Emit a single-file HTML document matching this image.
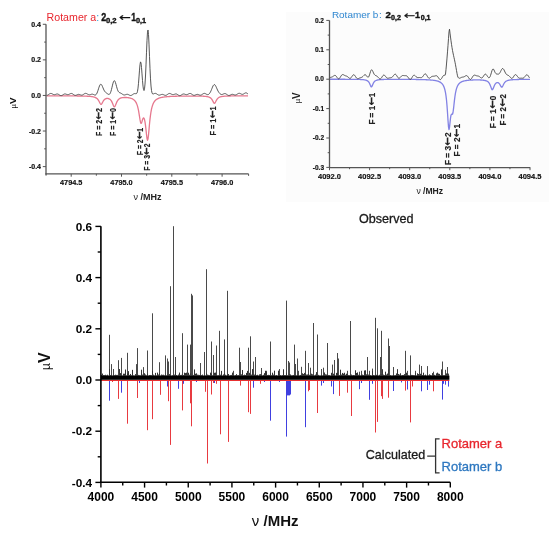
<!DOCTYPE html><html><head><meta charset="utf-8"><title>Rotational spectra</title>
<style>html,body{margin:0;padding:0;background:#fff;}svg{display:block;}</style></head><body>
<svg width="550" height="537" viewBox="0 0 550 537" font-family="&apos;Liberation Sans&apos;, sans-serif">
<rect width="550" height="537" fill="#fff"/>
<path d="M46.5 95.83 L47 95.83 L47.5 95.83 L48 95.83 L48.5 95.83 L49 95.83 L49.5 95.83 L50 95.83 L50.5 95.83 L51 95.84 L51.5 95.84 L52 95.84 L52.5 95.84 L53 95.84 L53.5 95.84 L54 95.84 L54.5 95.84 L55 95.85 L55.5 95.85 L56 95.85 L56.5 95.85 L57 95.85 L57.5 95.85 L58 95.86 L58.5 95.86 L59 95.86 L59.5 95.86 L60 95.86 L60.5 95.86 L61 95.87 L61.5 95.87 L62 95.87 L62.5 95.87 L63 95.87 L63.5 95.88 L64 95.88 L64.5 95.88 L65 95.88 L65.5 95.89 L66 95.89 L66.5 95.89 L67 95.9 L67.5 95.9 L68 95.9 L68.5 95.9 L69 95.91 L69.5 95.91 L70 95.91 L70.5 95.92 L71 95.92 L71.5 95.93 L72 95.93 L72.5 95.93 L73 95.94 L73.5 95.94 L74 95.95 L74.5 95.95 L75 95.96 L75.5 95.96 L76 95.97 L76.5 95.97 L77 95.98 L77.5 95.99 L78 95.99 L78.5 96 L79 96.01 L79.5 96.02 L80 96.03 L80.5 96.04 L81 96.05 L81.5 96.06 L82 96.07 L82.5 96.08 L83 96.09 L83.5 96.1 L84 96.12 L84.5 96.13 L85 96.15 L85.5 96.17 L86 96.19 L86.5 96.21 L87 96.23 L87.5 96.26 L88 96.28 L88.5 96.31 L89 96.35 L89.5 96.38 L90 96.42 L90.5 96.47 L91 96.52 L91.5 96.58 L92 96.65 L92.5 96.73 L93 96.82 L93.5 96.92 L94 97.04 L94.5 97.19 L95 97.36 L95.5 97.57 L96 97.83 L96.5 98.14 L97 98.53 L97.5 99.02 L98 99.62 L98.5 100.37 L99 101.26 L99.5 102.26 L100 103.25 L100.5 104.02 L101 104.34 L101.5 104.09 L102 103.38 L102.5 102.45 L103 101.52 L103.5 100.7 L104 100.03 L104.5 99.51 L105 99.12 L105.5 98.83 L106 98.62 L106.5 98.5 L107 98.43 L107.5 98.43 L108 98.48 L108.5 98.59 L109 98.77 L109.5 99.03 L110 99.37 L110.5 99.83 L111 100.42 L111.5 101.17 L112 102.12 L112.5 103.25 L113 104.51 L113.5 105.71 L114 106.56 L114.5 106.78 L115 106.27 L115.5 105.22 L116 103.95 L116.5 102.72 L117 101.64 L117.5 100.75 L118 100.03 L118.5 99.47 L119 99.02 L119.5 98.67 L120 98.39 L120.5 98.16 L121 97.99 L121.5 97.85 L122 97.73 L122.5 97.65 L123 97.58 L123.5 97.53 L124 97.5 L124.5 97.48 L125 97.48 L125.5 97.48 L126 97.5 L126.5 97.52 L127 97.56 L127.5 97.61 L128 97.67 L128.5 97.74 L129 97.82 L129.5 97.92 L130 98.04 L130.5 98.17 L131 98.33 L131.5 98.5 L132 98.71 L132.5 98.95 L133 99.23 L133.5 99.55 L134 99.94 L134.5 100.39 L135 100.94 L135.5 101.6 L136 102.41 L136.5 103.4 L137 104.63 L137.5 106.16 L138 108.08 L138.5 110.44 L139 113.29 L139.5 116.5 L140 119.71 L140.5 122.23 L141 123.38 L141.5 122.97 L142 121.49 L142.5 119.78 L143 118.46 L143.5 117.9 L144 118.24 L144.5 119.57 L145 121.96 L145.5 125.42 L146 129.79 L146.5 134.54 L147 138.53 L147.5 140.33 L148 139.02 L148.5 134.98 L149 129.57 L149.5 124.04 L150 119.13 L150.5 115.05 L151 111.77 L151.5 109.17 L152 107.1 L152.5 105.44 L153 104.11 L153.5 103.03 L154 102.14 L154.5 101.4 L155 100.78 L155.5 100.26 L156 99.81 L156.5 99.43 L157 99.1 L157.5 98.81 L158 98.56 L158.5 98.34 L159 98.15 L159.5 97.97 L160 97.82 L160.5 97.68 L161 97.56 L161.5 97.44 L162 97.34 L162.5 97.25 L163 97.16 L163.5 97.09 L164 97.02 L164.5 96.95 L165 96.89 L165.5 96.83 L166 96.78 L166.5 96.74 L167 96.69 L167.5 96.65 L168 96.61 L168.5 96.58 L169 96.54 L169.5 96.51 L170 96.48 L170.5 96.46 L171 96.43 L171.5 96.41 L172 96.38 L172.5 96.36 L173 96.34 L173.5 96.32 L174 96.3 L174.5 96.29 L175 96.27 L175.5 96.26 L176 96.24 L176.5 96.23 L177 96.21 L177.5 96.2 L178 96.19 L178.5 96.18 L179 96.17 L179.5 96.16 L180 96.15 L180.5 96.14 L181 96.13 L181.5 96.12 L182 96.12 L182.5 96.11 L183 96.1 L183.5 96.1 L184 96.09 L184.5 96.08 L185 96.08 L185.5 96.07 L186 96.07 L186.5 96.06 L187 96.06 L187.5 96.06 L188 96.05 L188.5 96.05 L189 96.05 L189.5 96.04 L190 96.04 L190.5 96.04 L191 96.04 L191.5 96.04 L192 96.04 L192.5 96.04 L193 96.04 L193.5 96.04 L194 96.04 L194.5 96.04 L195 96.04 L195.5 96.05 L196 96.05 L196.5 96.05 L197 96.06 L197.5 96.06 L198 96.07 L198.5 96.07 L199 96.08 L199.5 96.09 L200 96.1 L200.5 96.11 L201 96.13 L201.5 96.14 L202 96.16 L202.5 96.18 L203 96.2 L203.5 96.23 L204 96.26 L204.5 96.29 L205 96.33 L205.5 96.38 L206 96.44 L206.5 96.5 L207 96.58 L207.5 96.67 L208 96.79 L208.5 96.92 L209 97.09 L209.5 97.31 L210 97.57 L210.5 97.91 L211 98.34 L211.5 98.89 L212 99.59 L212.5 100.44 L213 101.42 L213.5 102.4 L214 103.12 L214.5 103.3 L215 102.88 L215.5 102.02 L216 101.01 L216.5 100.07 L217 99.28 L217.5 98.64 L218 98.14 L218.5 97.74 L219 97.43 L219.5 97.19 L220 96.99 L220.5 96.83 L221 96.7 L221.5 96.6 L222 96.51 L222.5 96.43 L223 96.37 L223.5 96.31 L224 96.26 L224.5 96.22 L225 96.19 L225.5 96.16 L226 96.13 L226.5 96.1 L227 96.08 L227.5 96.06 L228 96.04 L228.5 96.03 L229 96.01 L229.5 96 L230 95.99 L230.5 95.98 L231 95.97 L231.5 95.96 L232 95.95 L232.5 95.94 L233 95.93 L233.5 95.93 L234 95.92 L234.5 95.91 L235 95.91 L235.5 95.9 L236 95.9 L236.5 95.89 L237 95.89 L237.5 95.88 L238 95.88 L238.5 95.88 L239 95.87 L239.5 95.87 L240 95.87 L240.5 95.86 L241 95.86 L241.5 95.86 L242 95.86 L242.5 95.85 L243 95.85 L243.5 95.85 L244 95.85 L244.5 95.84 L245 95.84 L245.5 95.84 L246 95.84 L246.5 95.84 L247 95.84 L247.5 95.83 L248 95.83" fill="none" stroke="#e6788e" stroke-width="1.3" stroke-linejoin="round"/>
<path d="M46.5 95.32 L47 95.33 L47.5 95.2 L48 94.96 L48.5 94.62 L49 94.25 L49.5 93.9 L50 93.62 L50.5 93.46 L51 93.43 L51.5 93.54 L52 93.75 L52.5 94.02 L53 94.29 L53.5 94.51 L54 94.64 L54.5 94.66 L55 94.58 L55.5 94.43 L56 94.25 L56.5 94.08 L57 93.99 L57.5 94 L58 94.13 L58.5 94.37 L59 94.68 L59.5 95.02 L60 95.32 L60.5 95.53 L61 95.63 L61.5 95.58 L62 95.39 L62.5 95.11 L63 94.77 L63.5 94.44 L64 94.16 L64.5 93.99 L65 93.94 L65.5 94 L66 94.14 L66.5 94.33 L67 94.5 L67.5 94.62 L68 94.64 L68.5 94.55 L69 94.36 L69.5 94.11 L70 93.84 L70.5 93.62 L71 93.48 L71.5 93.46 L72 93.58 L72.5 93.83 L73 94.16 L73.5 94.54 L74 94.89 L74.5 95.17 L75 95.34 L75.5 95.37 L76 95.28 L76.5 95.09 L77 94.86 L77.5 94.63 L78 94.45 L78.5 94.37 L79 94.4 L79.5 94.52 L80 94.7 L80.5 94.91 L81 95.08 L81.5 95.16 L82 95.13 L82.5 94.98 L83 94.72 L83.5 94.38 L84 94.02 L84.5 93.69 L85 93.46 L85.5 93.35 L86 93.38 L86.5 93.54 L87 93.8 L87.5 94.11 L88 94.41 L88.5 94.64 L89 94.78 L89.5 94.81 L90 94.73 L90.5 94.58 L91 94.4 L91.5 94.24 L92 94.15 L92.5 94.17 L93 94.29 L93.5 94.49 L94 94.74 L94.5 94.96 L95 95.07 L95.5 95 L96 94.67 L96.5 94.03 L97 93.09 L97.5 91.84 L98 90.37 L98.5 88.79 L99 87.24 L99.5 85.88 L100 84.85 L100.5 84.29 L101 84.23 L101.5 84.66 L102 85.51 L102.5 86.63 L103 87.86 L103.5 89.07 L104 90.15 L104.5 91.03 L105 91.71 L105.5 92.24 L106 92.66 L106.5 93.04 L107 93.41 L107.5 93.78 L108 94.12 L108.5 94.37 L109 94.43 L109.5 94.22 L110 93.64 L110.5 92.63 L111 91.19 L111.5 89.36 L112 87.28 L112.5 85.15 L113 83.2 L113.5 81.7 L114 80.83 L114.5 80.73 L115 81.39 L115.5 82.68 L116 84.4 L116.5 86.3 L117 88.12 L117.5 89.69 L118 90.9 L118.5 91.76 L119 92.29 L119.5 92.62 L120 92.83 L120.5 93.02 L121 93.26 L121.5 93.55 L122 93.9 L122.5 94.25 L123 94.58 L123.5 94.83 L124 94.96 L124.5 94.98 L125 94.89 L125.5 94.73 L126 94.54 L126.5 94.38 L127 94.3 L127.5 94.31 L128 94.44 L128.5 94.65 L129 94.92 L129.5 95.18 L130 95.39 L130.5 95.5 L131 95.47 L131.5 95.31 L132 95.03 L132.5 94.68 L133 94.31 L133.5 93.97 L134 93.72 L134.5 93.59 L135 93.58 L135.5 93.66 L136 93.72 L136.5 93.58 L137 92.91 L137.5 91.27 L138 88.15 L138.5 83.29 L139 76.94 L139.5 70.15 L140 64.57 L140.5 61.87 L141 62.93 L141.5 67.4 L142 73.88 L142.5 80.59 L143 86.09 L143.5 89.54 L144 90.56 L144.5 88.86 L145 84.09 L145.5 76 L146 64.92 L146.5 52.22 L147 40.33 L147.5 32.17 L148 29.99 L148.5 34.41 L149 44.11 L149.5 56.47 L150 68.72 L150.5 78.85 L151 86.04 L151.5 90.47 L152 92.8 L152.5 93.79 L153 94.03 L153.5 93.92 L154 93.69 L154.5 93.48 L155 93.36 L155.5 93.37 L156 93.52 L156.5 93.78 L157 94.13 L157.5 94.49 L158 94.81 L158.5 95.04 L159 95.16 L159.5 95.15 L160 95.04 L160.5 94.85 L161 94.65 L161.5 94.48 L162 94.38 L162.5 94.39 L163 94.5 L163.5 94.69 L164 94.92 L164.5 95.15 L165 95.31 L165.5 95.37 L166 95.3 L166.5 95.1 L167 94.79 L167.5 94.42 L168 94.06 L168.5 93.74 L169 93.53 L169.5 93.45 L170 93.5 L170.5 93.67 L171 93.92 L171.5 94.19 L172 94.43 L172.5 94.59 L173 94.64 L173.5 94.6 L174 94.46 L174.5 94.28 L175 94.1 L175.5 93.97 L176 93.95 L176.5 94.03 L177 94.24 L177.5 94.53 L178 94.87 L178.5 95.2 L179 95.46 L179.5 95.61 L180 95.61 L180.5 95.48 L181 95.24 L181.5 94.92 L182 94.58 L182.5 94.29 L183 94.08 L183.5 93.98 L184 94 L184.5 94.12 L185 94.29 L185.5 94.47 L186 94.61 L186.5 94.66 L187 94.61 L187.5 94.45 L188 94.21 L188.5 93.94 L189 93.68 L189.5 93.5 L190 93.43 L190.5 93.49 L191 93.69 L191.5 94 L192 94.36 L192.5 94.73 L193 95.05 L193.5 95.26 L194 95.34 L194.5 95.3 L195 95.15 L195.5 94.93 L196 94.7 L196.5 94.51 L197 94.39 L197.5 94.39 L198 94.48 L198.5 94.65 L199 94.86 L199.5 95.05 L200 95.18 L200.5 95.2 L201 95.09 L201.5 94.86 L202 94.54 L202.5 94.18 L203 93.83 L203.5 93.55 L204 93.39 L204.5 93.36 L205 93.47 L205.5 93.69 L206 93.98 L206.5 94.27 L207 94.5 L207.5 94.63 L208 94.62 L208.5 94.43 L209 94.06 L209.5 93.5 L210 92.76 L210.5 91.85 L211 90.79 L211.5 89.6 L212 88.34 L212.5 87.11 L213 86.01 L213.5 85.16 L214 84.67 L214.5 84.58 L215 84.92 L215.5 85.63 L216 86.6 L216.5 87.72 L217 88.88 L217.5 89.98 L218 90.98 L218.5 91.85 L219 92.59 L219.5 93.22 L220 93.74 L220.5 94.13 L221 94.39 L221.5 94.52 L222 94.51 L222.5 94.38 L223 94.17 L223.5 93.93 L224 93.72 L224.5 93.58 L225 93.56 L225.5 93.68 L226 93.92 L226.5 94.25 L227 94.62 L227.5 94.98 L228 95.27 L228.5 95.44 L229 95.48 L229.5 95.39 L230 95.19 L230.5 94.94 L231 94.68 L231.5 94.46 L232 94.33 L232.5 94.31 L233 94.4 L233.5 94.55 L234 94.74 L234.5 94.91 L235 95.01 L235.5 95 L236 94.87 L236.5 94.63 L237 94.32 L237.5 93.97 L238 93.65 L238.5 93.41 L239 93.29 L239.5 93.31 L240 93.44 L240.5 93.67 L241 93.93 L241.5 94.17 L242 94.32 L242.5 94.36 L243 94.26 L243.5 94.03 L244 93.72 L244.5 93.38 L245 93.09 L245.5 92.9 L246 92.85 L246.5 92.97 L247 93.24 L247.5 93.63 L248 94.06" fill="none" stroke="#444" stroke-width="0.9" stroke-linejoin="round"/>
<line x1="46" y1="24.3" x2="46" y2="174.4" stroke="#555" stroke-width="1.3"/>
<line x1="45.4" y1="173.9" x2="248.6" y2="173.9" stroke="#555" stroke-width="1.3"/>
<line x1="248.6" y1="173.9" x2="248.6" y2="175.9" stroke="#555" stroke-width="1"/>
<line x1="42.8" y1="24.29" x2="46" y2="24.29" stroke="#555" stroke-width="1"/>
<text x="41" y="26.79" font-size="7" text-anchor="end" font-weight="bold" fill="#111" stroke="#111" stroke-width="0.18">0.4</text>
<line x1="44.2" y1="42.08" x2="46" y2="42.08" stroke="#555" stroke-width="1"/>
<line x1="42.8" y1="59.87" x2="46" y2="59.87" stroke="#555" stroke-width="1"/>
<text x="41" y="62.37" font-size="7" text-anchor="end" font-weight="bold" fill="#111" stroke="#111" stroke-width="0.18">0.2</text>
<line x1="44.2" y1="77.66" x2="46" y2="77.66" stroke="#555" stroke-width="1"/>
<line x1="42.8" y1="95.45" x2="46" y2="95.45" stroke="#555" stroke-width="1"/>
<text x="41" y="97.95" font-size="7" text-anchor="end" font-weight="bold" fill="#111" stroke="#111" stroke-width="0.18">0.0</text>
<line x1="44.2" y1="113.24" x2="46" y2="113.24" stroke="#555" stroke-width="1"/>
<line x1="42.8" y1="131.03" x2="46" y2="131.03" stroke="#555" stroke-width="1"/>
<text x="41" y="133.53" font-size="7" text-anchor="end" font-weight="bold" fill="#111" stroke="#111" stroke-width="0.18">-0.2</text>
<line x1="44.2" y1="148.82" x2="46" y2="148.82" stroke="#555" stroke-width="1"/>
<line x1="42.8" y1="166.61" x2="46" y2="166.61" stroke="#555" stroke-width="1"/>
<text x="41" y="169.11" font-size="7" text-anchor="end" font-weight="bold" fill="#111" stroke="#111" stroke-width="0.18">-0.4</text>
<line x1="46.05" y1="173.9" x2="46.05" y2="175.7" stroke="#555" stroke-width="1"/>
<line x1="71.2" y1="173.9" x2="71.2" y2="176.7" stroke="#555" stroke-width="1"/>
<text x="71.2" y="184.8" font-size="7.3" text-anchor="middle" font-weight="bold" fill="#111" stroke="#111" stroke-width="0.18">4794.5</text>
<line x1="96.35" y1="173.9" x2="96.35" y2="175.7" stroke="#555" stroke-width="1"/>
<line x1="121.5" y1="173.9" x2="121.5" y2="176.7" stroke="#555" stroke-width="1"/>
<text x="121.5" y="184.8" font-size="7.3" text-anchor="middle" font-weight="bold" fill="#111" stroke="#111" stroke-width="0.18">4795.0</text>
<line x1="146.65" y1="173.9" x2="146.65" y2="175.7" stroke="#555" stroke-width="1"/>
<line x1="171.8" y1="173.9" x2="171.8" y2="176.7" stroke="#555" stroke-width="1"/>
<text x="171.8" y="184.8" font-size="7.3" text-anchor="middle" font-weight="bold" fill="#111" stroke="#111" stroke-width="0.18">4795.5</text>
<line x1="196.95" y1="173.9" x2="196.95" y2="175.7" stroke="#555" stroke-width="1"/>
<line x1="222.1" y1="173.9" x2="222.1" y2="176.7" stroke="#555" stroke-width="1"/>
<text x="222.1" y="184.8" font-size="7.3" text-anchor="middle" font-weight="bold" fill="#111" stroke="#111" stroke-width="0.18">4796.0</text>
<text x="133.4" y="199.5" font-size="9" font-weight="bold" fill="#222"><tspan font-weight="normal">&#957;</tspan> /MHz</text>
<text transform="translate(16.0 108.4) rotate(-90)" font-size="9.8" font-weight="bold" fill="#111"><tspan font-weight="normal" font-size="7.6">&#181;</tspan>V</text>
<text x="46.6" y="20.7" font-size="10.6" fill="#e8262e" textLength="49.6" lengthAdjust="spacingAndGlyphs">Rotamer a</text>
<text x="96.3" y="20.7" font-size="10.6" fill="#2e9fd6">:</text>
<text x="101.2" y="20.7" font-size="10.4" font-weight="bold" fill="#111" textLength="5" lengthAdjust="spacingAndGlyphs" stroke="#111" stroke-width="0.35">2</text>
<text x="106" y="22.9" font-size="6.8" font-weight="bold" fill="#111" textLength="10.6" lengthAdjust="spacingAndGlyphs" stroke="#111" stroke-width="0.35">0,2</text>
<text x="118.8" y="21.2" font-size="11" font-family="DejaVu Sans" fill="#111" stroke="#111" stroke-width="0.25" textLength="11.8" lengthAdjust="spacingAndGlyphs">&#8592;</text>
<text x="131.2" y="20.7" font-size="10.4" font-weight="bold" fill="#111" textLength="4.8" lengthAdjust="spacingAndGlyphs" stroke="#111" stroke-width="0.35">1</text>
<text x="136" y="22.9" font-size="6.8" font-weight="bold" fill="#111" textLength="10.2" lengthAdjust="spacingAndGlyphs" stroke="#111" stroke-width="0.35">0,1</text>
<text x="0" y="0" font-size="8.3" font-weight="bold" fill="#222" textLength="28" lengthAdjust="spacingAndGlyphs" stroke="#222" stroke-width="0.15" transform="translate(102.15 136) rotate(-90)">F = 2<tspan font-family="DejaVu Sans" font-size="11">&#8592;</tspan>2</text>
<text x="0" y="0" font-size="8.3" font-weight="bold" fill="#222" textLength="28" lengthAdjust="spacingAndGlyphs" stroke="#222" stroke-width="0.15" transform="translate(116.45 136) rotate(-90)">F = 1<tspan font-family="DejaVu Sans" font-size="11">&#8592;</tspan>0</text>
<text x="0" y="0" font-size="8.3" font-weight="bold" fill="#222" textLength="27.4" lengthAdjust="spacingAndGlyphs" stroke="#222" stroke-width="0.15" transform="translate(142.95 155.2) rotate(-90)">F = 2<tspan font-family="DejaVu Sans" font-size="11">&#8592;</tspan>1</text>
<text x="0" y="0" font-size="8.3" font-weight="bold" fill="#222" textLength="27.3" lengthAdjust="spacingAndGlyphs" stroke="#222" stroke-width="0.15" transform="translate(150.25 170.8) rotate(-90)">F = 3<tspan font-family="DejaVu Sans" font-size="11">&#8592;</tspan>2</text>
<text x="0" y="0" font-size="8.3" font-weight="bold" fill="#222" textLength="29" lengthAdjust="spacingAndGlyphs" stroke="#222" stroke-width="0.15" transform="translate(216.05 135.4) rotate(-90)">F = 1<tspan font-family="DejaVu Sans" font-size="11">&#8592;</tspan>1</text>
<rect x="286" y="12" width="263" height="190" fill="#fcfcfc"/>
<path d="M330 79.24 L330.5 79.24 L331 79.24 L331.5 79.24 L332 79.24 L332.5 79.24 L333 79.25 L333.5 79.25 L334 79.25 L334.5 79.25 L335 79.25 L335.5 79.25 L336 79.25 L336.5 79.25 L337 79.25 L337.5 79.25 L338 79.25 L338.5 79.26 L339 79.26 L339.5 79.26 L340 79.26 L340.5 79.26 L341 79.26 L341.5 79.26 L342 79.26 L342.5 79.27 L343 79.27 L343.5 79.27 L344 79.27 L344.5 79.27 L345 79.27 L345.5 79.28 L346 79.28 L346.5 79.28 L347 79.28 L347.5 79.29 L348 79.29 L348.5 79.29 L349 79.29 L349.5 79.3 L350 79.3 L350.5 79.3 L351 79.31 L351.5 79.31 L352 79.32 L352.5 79.32 L353 79.33 L353.5 79.33 L354 79.34 L354.5 79.34 L355 79.35 L355.5 79.36 L356 79.36 L356.5 79.37 L357 79.38 L357.5 79.39 L358 79.41 L358.5 79.42 L359 79.43 L359.5 79.45 L360 79.47 L360.5 79.49 L361 79.51 L361.5 79.54 L362 79.57 L362.5 79.61 L363 79.65 L363.5 79.7 L364 79.77 L364.5 79.84 L365 79.93 L365.5 80.03 L366 80.17 L366.5 80.34 L367 80.56 L367.5 80.84 L368 81.21 L368.5 81.71 L369 82.38 L369.5 83.27 L370 84.38 L370.5 85.61 L371 86.6 L371.5 86.88 L372 86.27 L372.5 85.12 L373 83.92 L373.5 82.89 L374 82.1 L374.5 81.5 L375 81.06 L375.5 80.73 L376 80.48 L376.5 80.28 L377 80.13 L377.5 80 L378 79.91 L378.5 79.83 L379 79.76 L379.5 79.71 L380 79.66 L380.5 79.62 L381 79.59 L381.5 79.56 L382 79.53 L382.5 79.51 L383 79.49 L383.5 79.48 L384 79.46 L384.5 79.45 L385 79.44 L385.5 79.43 L386 79.42 L386.5 79.41 L387 79.41 L387.5 79.4 L388 79.39 L388.5 79.39 L389 79.38 L389.5 79.38 L390 79.38 L390.5 79.37 L391 79.37 L391.5 79.37 L392 79.37 L392.5 79.37 L393 79.36 L393.5 79.36 L394 79.36 L394.5 79.36 L395 79.36 L395.5 79.36 L396 79.36 L396.5 79.36 L397 79.36 L397.5 79.36 L398 79.36 L398.5 79.36 L399 79.36 L399.5 79.36 L400 79.36 L400.5 79.37 L401 79.37 L401.5 79.37 L402 79.37 L402.5 79.37 L403 79.37 L403.5 79.38 L404 79.38 L404.5 79.38 L405 79.38 L405.5 79.38 L406 79.39 L406.5 79.39 L407 79.39 L407.5 79.4 L408 79.4 L408.5 79.4 L409 79.41 L409.5 79.41 L410 79.41 L410.5 79.42 L411 79.42 L411.5 79.43 L412 79.43 L412.5 79.44 L413 79.44 L413.5 79.45 L414 79.45 L414.5 79.46 L415 79.47 L415.5 79.47 L416 79.48 L416.5 79.49 L417 79.5 L417.5 79.5 L418 79.51 L418.5 79.52 L419 79.53 L419.5 79.54 L420 79.55 L420.5 79.56 L421 79.57 L421.5 79.59 L422 79.6 L422.5 79.61 L423 79.63 L423.5 79.64 L424 79.66 L424.5 79.67 L425 79.69 L425.5 79.71 L426 79.73 L426.5 79.75 L427 79.77 L427.5 79.8 L428 79.82 L428.5 79.85 L429 79.88 L429.5 79.91 L430 79.95 L430.5 79.99 L431 80.03 L431.5 80.07 L432 80.12 L432.5 80.17 L433 80.22 L433.5 80.28 L434 80.35 L434.5 80.42 L435 80.5 L435.5 80.59 L436 80.69 L436.5 80.8 L437 80.92 L437.5 81.06 L438 81.21 L438.5 81.39 L439 81.58 L439.5 81.81 L440 82.07 L440.5 82.38 L441 82.73 L441.5 83.15 L442 83.65 L442.5 84.25 L443 84.98 L443.5 85.88 L444 87.01 L444.5 88.43 L445 90.27 L445.5 92.66 L446 95.82 L446.5 100.03 L447 105.57 L447.5 112.52 L448 120.26 L448.5 126.83 L449 129.51 L449.5 127.4 L450 122.65 L450.5 118.08 L451 115.2 L451.5 114.17 L452 114.29 L452.5 114.19 L453 112.52 L453.5 108.96 L454 104.4 L454.5 99.89 L455 96.04 L455.5 92.94 L456 90.53 L456.5 88.65 L457 87.18 L457.5 86.02 L458 85.1 L458.5 84.35 L459 83.73 L459.5 83.22 L460 82.8 L460.5 82.44 L461 82.13 L461.5 81.87 L462 81.64 L462.5 81.44 L463 81.27 L463.5 81.12 L464 80.98 L464.5 80.87 L465 80.76 L465.5 80.66 L466 80.58 L466.5 80.5 L467 80.43 L467.5 80.37 L468 80.32 L468.5 80.27 L469 80.22 L469.5 80.18 L470 80.14 L470.5 80.11 L471 80.08 L471.5 80.05 L472 80.03 L472.5 80 L473 79.98 L473.5 79.97 L474 79.95 L474.5 79.94 L475 79.93 L475.5 79.92 L476 79.92 L476.5 79.91 L477 79.91 L477.5 79.91 L478 79.92 L478.5 79.93 L479 79.94 L479.5 79.95 L480 79.97 L480.5 79.99 L481 80.01 L481.5 80.04 L482 80.08 L482.5 80.12 L483 80.17 L483.5 80.23 L484 80.3 L484.5 80.39 L485 80.49 L485.5 80.62 L486 80.77 L486.5 80.95 L487 81.18 L487.5 81.47 L488 81.84 L488.5 82.3 L489 82.9 L489.5 83.67 L490 84.66 L490.5 85.88 L491 87.28 L491.5 88.65 L492 89.59 L492.5 89.72 L493 88.99 L493.5 87.74 L494 86.41 L494.5 85.24 L495 84.31 L495.5 83.62 L496 83.13 L496.5 82.81 L497 82.64 L497.5 82.61 L498 82.7 L498.5 82.94 L499 83.34 L499.5 83.93 L500 84.7 L500.5 85.62 L501 86.53 L501.5 87.13 L502 87.14 L502.5 86.52 L503 85.53 L503.5 84.47 L504 83.52 L504.5 82.74 L505 82.12 L505.5 81.64 L506 81.27 L506.5 80.97 L507 80.74 L507.5 80.55 L508 80.39 L508.5 80.26 L509 80.16 L509.5 80.06 L510 79.99 L510.5 79.92 L511 79.86 L511.5 79.81 L512 79.77 L512.5 79.73 L513 79.7 L513.5 79.67 L514 79.64 L514.5 79.61 L515 79.59 L515.5 79.57 L516 79.55 L516.5 79.53 L517 79.52 L517.5 79.5 L518 79.49 L518.5 79.48 L519 79.47 L519.5 79.46 L520 79.45 L520.5 79.44 L521 79.43 L521.5 79.42 L522 79.41 L522.5 79.41 L523 79.4 L523.5 79.39 L524 79.39 L524.5 79.38 L525 79.38 L525.5 79.37 L526 79.37 L526.5 79.36 L527 79.36 L527.5 79.35 L528 79.35 L528.5 79.34 L529 79.34 L529.5 79.34 L530 79.33" fill="none" stroke="#8282e4" stroke-width="1.3" stroke-linejoin="round"/>
<path d="M330 77.64 L330.5 77.42 L331 77.27 L331.5 77.15 L332 76.98 L332.5 76.75 L333 76.42 L333.5 76.04 L334 75.68 L334.5 75.42 L335 75.35 L335.5 75.53 L336 75.97 L336.5 76.61 L337 77.36 L337.5 78.07 L338 78.61 L338.5 78.87 L339 78.78 L339.5 78.35 L340 77.66 L340.5 76.83 L341 75.99 L341.5 75.28 L342 74.8 L342.5 74.57 L343 74.58 L343.5 74.78 L344 75.07 L344.5 75.36 L345 75.62 L345.5 75.8 L346 75.95 L346.5 76.09 L347 76.3 L347.5 76.61 L348 77.02 L348.5 77.48 L349 77.93 L349.5 78.26 L350 78.38 L350.5 78.23 L351 77.8 L351.5 77.15 L352 76.38 L352.5 75.63 L353 75.04 L353.5 74.74 L354 74.77 L354.5 75.14 L355 75.77 L355.5 76.55 L356 77.33 L356.5 78 L357 78.47 L357.5 78.7 L358 78.7 L358.5 78.54 L359 78.31 L359.5 78.06 L360 77.86 L360.5 77.71 L361 77.58 L361.5 77.42 L362 77.18 L362.5 76.81 L363 76.34 L363.5 75.79 L364 75.27 L364.5 74.88 L365 74.71 L365.5 74.82 L366 75.22 L366.5 75.83 L367 76.51 L367.5 77.07 L368 77.31 L368.5 77.05 L369 76.21 L369.5 74.85 L370 73.19 L370.5 71.57 L371 70.35 L371.5 69.79 L372 69.94 L372.5 70.69 L373 71.77 L373.5 72.92 L374 73.93 L374.5 74.68 L375 75.18 L375.5 75.48 L376 75.68 L376.5 75.88 L377 76.16 L377.5 76.58 L378 77.12 L378.5 77.73 L379 78.32 L379.5 78.77 L380 78.98 L380.5 78.89 L381 78.49 L381.5 77.82 L382 77.01 L382.5 76.2 L383 75.53 L383.5 75.12 L384 75.03 L384.5 75.26 L385 75.75 L385.5 76.39 L386 77.05 L386.5 77.61 L387 78.01 L387.5 78.21 L388 78.24 L388.5 78.16 L389 78.02 L389.5 77.9 L390 77.82 L390.5 77.77 L391 77.7 L391.5 77.55 L392 77.27 L392.5 76.83 L393 76.24 L393.5 75.57 L394 74.93 L394.5 74.42 L395 74.17 L395.5 74.23 L396 74.63 L396.5 75.29 L397 76.12 L397.5 76.96 L398 77.67 L398.5 78.13 L399 78.28 L399.5 78.12 L400 77.71 L400.5 77.15 L401 76.57 L401.5 76.06 L402 75.71 L402.5 75.52 L403 75.48 L403.5 75.54 L404 75.61 L404.5 75.67 L405 75.68 L405.5 75.67 L406 75.69 L406.5 75.81 L407 76.09 L407.5 76.55 L408 77.17 L408.5 77.89 L409 78.58 L409.5 79.13 L410 79.42 L410.5 79.38 L411 79 L411.5 78.34 L412 77.5 L412.5 76.64 L413 75.89 L413.5 75.39 L414 75.18 L414.5 75.27 L415 75.61 L415.5 76.08 L416 76.59 L416.5 77.03 L417 77.34 L417.5 77.5 L418 77.55 L418.5 77.53 L419 77.51 L419.5 77.53 L420 77.59 L420.5 77.67 L421 77.71 L421.5 77.62 L422 77.36 L422.5 76.9 L423 76.25 L423.5 75.51 L424 74.78 L424.5 74.19 L425 73.87 L425.5 73.88 L426 74.25 L426.5 74.9 L427 75.74 L427.5 76.62 L428 77.39 L428.5 77.93 L429 78.19 L429.5 78.16 L430 77.9 L430.5 77.5 L431 77.07 L431.5 76.7 L432 76.44 L432.5 76.3 L433 76.25 L433.5 76.23 L434 76.2 L434.5 76.1 L435 75.96 L435.5 75.8 L436 75.69 L436.5 75.73 L437 75.96 L437.5 76.42 L438 77.07 L438.5 77.84 L439 78.6 L439.5 79.22 L440 79.57 L440.5 79.58 L441 79.23 L441.5 78.59 L442 77.76 L442.5 76.88 L443 76.09 L443.5 75.52 L444 75.22 L444.5 75.19 L445 75.38 L445.5 74.13 L446 69.4 L446.5 63.99 L447 58.11 L447.5 51.86 L448 45.32 L448.5 38.59 L449 31.74 L449.5 29.18 L450 33.13 L450.5 37.02 L451 40.77 L451.5 44.29 L452 47.5 L452.5 50.39 L453 52.96 L453.5 55.31 L454 57.56 L454.5 59.82 L455 62.22 L455.5 64.81 L456 67.6 L456.5 70.49 L457 73.32 L457.5 75.84 L458 77.26 L458.5 77.85 L459 78.18 L459.5 78.26 L460 78.13 L460.5 77.88 L461 77.6 L461.5 77.36 L462 77.2 L462.5 77.11 L463 77.05 L463.5 76.96 L464 76.8 L464.5 76.55 L465 76.23 L465.5 75.9 L466 75.64 L466.5 75.55 L467 75.7 L467.5 76.11 L468 76.75 L468.5 77.53 L469 78.33 L469.5 78.99 L470 79.4 L470.5 79.46 L471 79.17 L471.5 78.58 L472 77.79 L472.5 76.94 L473 76.16 L473.5 75.57 L474 75.22 L474.5 75.1 L475 75.17 L475.5 75.36 L476 75.57 L476.5 75.75 L477 75.86 L477.5 75.93 L478 76 L478.5 76.11 L479 76.33 L479.5 76.66 L480 77.07 L480.5 77.49 L481 77.83 L481.5 77.99 L482 77.9 L482.5 77.52 L483 76.9 L483.5 76.11 L484 75.31 L484.5 74.63 L485 74.2 L485.5 74.1 L486 74.36 L486.5 74.91 L487 75.65 L487.5 76.45 L488 77.16 L488.5 77.64 L489 77.78 L489.5 77.51 L490 76.76 L490.5 75.56 L491 73.97 L491.5 72.21 L492 70.57 L492.5 69.38 L493 68.9 L493.5 69.17 L494 70.03 L494.5 71.18 L495 72.29 L495.5 73.14 L496 73.67 L496.5 73.94 L497 74.07 L497.5 74.14 L498 74.17 L498.5 74.1 L499 73.87 L499.5 73.39 L500 72.64 L500.5 71.68 L501 70.62 L501.5 69.63 L502 68.88 L502.5 68.51 L503 68.59 L503.5 69.09 L504 69.93 L504.5 70.97 L505 72.05 L505.5 73.04 L506 73.85 L506.5 74.43 L507 74.81 L507.5 75.06 L508 75.26 L508.5 75.51 L509 75.87 L509.5 76.36 L510 76.95 L510.5 77.55 L511 78.06 L511.5 78.36 L512 78.38 L512.5 78.08 L513 77.51 L513.5 76.74 L514 75.93 L514.5 75.22 L515 74.74 L515.5 74.57 L516 74.73 L516.5 75.18 L517 75.82 L517.5 76.53 L518 77.18 L518.5 77.7 L519 78.04 L519.5 78.2 L520 78.23 L520.5 78.2 L521 78.17 L521.5 78.17 L522 78.2 L522.5 78.22 L523 78.17 L523.5 77.99 L524 77.63 L524.5 77.1 L525 76.45 L525.5 75.78 L526 75.19 L526.5 74.83 L527 74.75 L527.5 75.01 L528 75.56 L528.5 76.31 L529 77.12 L529.5 77.85" fill="none" stroke="#444" stroke-width="0.9" stroke-linejoin="round"/>
<line x1="329.5" y1="20.4" x2="329.5" y2="168.1" stroke="#555" stroke-width="1.3"/>
<line x1="328.9" y1="167.6" x2="530.3" y2="167.6" stroke="#555" stroke-width="1.3"/>
<line x1="326.3" y1="20.4" x2="329.5" y2="20.4" stroke="#555" stroke-width="1"/>
<text x="324" y="22.6" font-size="6.5" text-anchor="end" font-weight="bold" fill="#111" stroke="#111" stroke-width="0.18">0.2</text>
<line x1="327.7" y1="35.1" x2="329.5" y2="35.1" stroke="#555" stroke-width="1"/>
<line x1="326.3" y1="49.8" x2="329.5" y2="49.8" stroke="#555" stroke-width="1"/>
<text x="324" y="52" font-size="6.5" text-anchor="end" font-weight="bold" fill="#111" stroke="#111" stroke-width="0.18">0.1</text>
<line x1="327.7" y1="64.5" x2="329.5" y2="64.5" stroke="#555" stroke-width="1"/>
<line x1="326.3" y1="79.2" x2="329.5" y2="79.2" stroke="#555" stroke-width="1"/>
<text x="324" y="81.4" font-size="6.5" text-anchor="end" font-weight="bold" fill="#111" stroke="#111" stroke-width="0.18">0.0</text>
<line x1="327.7" y1="93.9" x2="329.5" y2="93.9" stroke="#555" stroke-width="1"/>
<line x1="326.3" y1="108.6" x2="329.5" y2="108.6" stroke="#555" stroke-width="1"/>
<text x="324" y="110.8" font-size="6.5" text-anchor="end" font-weight="bold" fill="#111" stroke="#111" stroke-width="0.18">-0.1</text>
<line x1="327.7" y1="123.3" x2="329.5" y2="123.3" stroke="#555" stroke-width="1"/>
<line x1="326.3" y1="138" x2="329.5" y2="138" stroke="#555" stroke-width="1"/>
<text x="324" y="140.2" font-size="6.5" text-anchor="end" font-weight="bold" fill="#111" stroke="#111" stroke-width="0.18">-0.2</text>
<line x1="327.7" y1="152.7" x2="329.5" y2="152.7" stroke="#555" stroke-width="1"/>
<line x1="326.3" y1="167.4" x2="329.5" y2="167.4" stroke="#555" stroke-width="1"/>
<text x="324" y="169.6" font-size="6.5" text-anchor="end" font-weight="bold" fill="#111" stroke="#111" stroke-width="0.18">-0.3</text>
<line x1="329.5" y1="167.6" x2="329.5" y2="170.2" stroke="#555" stroke-width="1"/>
<text x="329.5" y="178.6" font-size="7.5" text-anchor="middle" font-weight="bold" fill="#111" stroke="#111" stroke-width="0.18">4092.0</text>
<line x1="349.55" y1="167.6" x2="349.55" y2="169.2" stroke="#555" stroke-width="1"/>
<line x1="369.6" y1="167.6" x2="369.6" y2="170.2" stroke="#555" stroke-width="1"/>
<text x="369.6" y="178.6" font-size="7.5" text-anchor="middle" font-weight="bold" fill="#111" stroke="#111" stroke-width="0.18">4092.5</text>
<line x1="389.65" y1="167.6" x2="389.65" y2="169.2" stroke="#555" stroke-width="1"/>
<line x1="409.7" y1="167.6" x2="409.7" y2="170.2" stroke="#555" stroke-width="1"/>
<text x="409.7" y="178.6" font-size="7.5" text-anchor="middle" font-weight="bold" fill="#111" stroke="#111" stroke-width="0.18">4093.0</text>
<line x1="429.75" y1="167.6" x2="429.75" y2="169.2" stroke="#555" stroke-width="1"/>
<line x1="449.8" y1="167.6" x2="449.8" y2="170.2" stroke="#555" stroke-width="1"/>
<text x="449.8" y="178.6" font-size="7.5" text-anchor="middle" font-weight="bold" fill="#111" stroke="#111" stroke-width="0.18">4093.5</text>
<line x1="469.85" y1="167.6" x2="469.85" y2="169.2" stroke="#555" stroke-width="1"/>
<line x1="489.9" y1="167.6" x2="489.9" y2="170.2" stroke="#555" stroke-width="1"/>
<text x="489.9" y="178.6" font-size="7.5" text-anchor="middle" font-weight="bold" fill="#111" stroke="#111" stroke-width="0.18">4094.0</text>
<line x1="509.95" y1="167.6" x2="509.95" y2="169.2" stroke="#555" stroke-width="1"/>
<line x1="530" y1="167.6" x2="530" y2="170.2" stroke="#555" stroke-width="1"/>
<text x="530" y="178.6" font-size="7.5" text-anchor="middle" font-weight="bold" fill="#111" stroke="#111" stroke-width="0.18">4094.5</text>
<text x="416.4" y="193.5" font-size="8.6" font-weight="bold" fill="#222"><tspan font-weight="normal">&#957;</tspan> /MHz</text>
<text transform="translate(299.6 103.3) rotate(-90)" font-size="10" font-weight="bold" fill="#222"><tspan font-weight="normal" font-size="7.5">&#181;</tspan>V</text>
<text x="331.9" y="18.1" font-size="9.8" fill="#2e86d0" textLength="46.5" lengthAdjust="spacingAndGlyphs">Rotamer b</text>
<text x="378.9" y="18.1" font-size="9.8" fill="#2e86d0">:</text>
<text x="385.6" y="17.9" font-size="9.8" font-weight="bold" fill="#111" textLength="5.4" lengthAdjust="spacingAndGlyphs" stroke="#111" stroke-width="0.35">2</text>
<text x="391" y="19.8" font-size="6.3" font-weight="bold" fill="#111" textLength="9.9" lengthAdjust="spacingAndGlyphs" stroke="#111" stroke-width="0.35">0,2</text>
<text x="403.8" y="19.2" font-size="10" font-family="DejaVu Sans" fill="#111" stroke="#111" stroke-width="0.25" textLength="11.2" lengthAdjust="spacingAndGlyphs">&#8592;</text>
<text x="415" y="17.9" font-size="9.8" font-weight="bold" fill="#111" textLength="5" lengthAdjust="spacingAndGlyphs" stroke="#111" stroke-width="0.35">1</text>
<text x="420.7" y="20" font-size="6.3" font-weight="bold" fill="#111" textLength="9.9" lengthAdjust="spacingAndGlyphs" stroke="#111" stroke-width="0.35">0,1</text>
<text x="0" y="0" font-size="8.6" font-weight="bold" fill="#222" textLength="32" lengthAdjust="spacingAndGlyphs" stroke="#222" stroke-width="0.15" transform="translate(375.45 124.6) rotate(-90)">F = 1<tspan font-family="DejaVu Sans" font-size="11">&#8592;</tspan>1</text>
<text x="0" y="0" font-size="8.6" font-weight="bold" fill="#222" textLength="32.6" lengthAdjust="spacingAndGlyphs" stroke="#222" stroke-width="0.15" transform="translate(450.75 165) rotate(-90)">F = 3<tspan font-family="DejaVu Sans" font-size="11">&#8592;</tspan>2</text>
<text x="0" y="0" font-size="8.6" font-weight="bold" fill="#222" textLength="32.6" lengthAdjust="spacingAndGlyphs" stroke="#222" stroke-width="0.15" transform="translate(459.55 156.6) rotate(-90)">F = 2<tspan font-family="DejaVu Sans" font-size="11">&#8592;</tspan>1</text>
<text x="0" y="0" font-size="8.6" font-weight="bold" fill="#222" textLength="32.8" lengthAdjust="spacingAndGlyphs" stroke="#222" stroke-width="0.15" transform="translate(495.75 128.3) rotate(-90)">F = 1<tspan font-family="DejaVu Sans" font-size="11">&#8592;</tspan>0</text>
<text x="0" y="0" font-size="8.6" font-weight="bold" fill="#222" textLength="31.4" lengthAdjust="spacingAndGlyphs" stroke="#222" stroke-width="0.15" transform="translate(506.15 125.5) rotate(-90)">F = 2<tspan font-family="DejaVu Sans" font-size="11">&#8592;</tspan>2</text>
<line x1="112.5" y1="380.5" x2="112.5" y2="382" stroke="#e83a40" stroke-width="1"/>
<line x1="118.5" y1="380.5" x2="118.5" y2="398.9" stroke="#e83a40" stroke-width="1"/>
<line x1="127.5" y1="380.5" x2="127.5" y2="423.7" stroke="#e83a40" stroke-width="1"/>
<line x1="137.5" y1="380.5" x2="137.5" y2="398" stroke="#e83a40" stroke-width="1"/>
<line x1="147.5" y1="380.5" x2="147.5" y2="430.2" stroke="#e83a40" stroke-width="1"/>
<line x1="152.5" y1="380.5" x2="152.5" y2="419.2" stroke="#e83a40" stroke-width="1"/>
<line x1="160.5" y1="380.5" x2="160.5" y2="394.8" stroke="#e83a40" stroke-width="1"/>
<line x1="168.5" y1="380.5" x2="168.5" y2="401.2" stroke="#e83a40" stroke-width="1"/>
<line x1="170.5" y1="380.5" x2="170.5" y2="444.9" stroke="#e83a40" stroke-width="1"/>
<line x1="182.5" y1="380.5" x2="182.5" y2="410.4" stroke="#e83a40" stroke-width="1"/>
<line x1="190.5" y1="380.5" x2="190.5" y2="403.3" stroke="#e83a40" stroke-width="1"/>
<line x1="191.5" y1="380.5" x2="191.5" y2="426.3" stroke="#e83a40" stroke-width="1"/>
<line x1="205.5" y1="380.5" x2="205.5" y2="391.8" stroke="#e83a40" stroke-width="1"/>
<line x1="207.5" y1="380.5" x2="207.5" y2="463.5" stroke="#e83a40" stroke-width="1"/>
<line x1="211.5" y1="380.5" x2="211.5" y2="394.5" stroke="#e83a40" stroke-width="1"/>
<line x1="213.5" y1="380.5" x2="213.5" y2="383" stroke="#e83a40" stroke-width="1"/>
<line x1="216.5" y1="380.5" x2="216.5" y2="383.8" stroke="#e83a40" stroke-width="1"/>
<line x1="220.5" y1="380.5" x2="220.5" y2="434.3" stroke="#e83a40" stroke-width="1"/>
<line x1="228.5" y1="380.5" x2="228.5" y2="441.9" stroke="#e83a40" stroke-width="1"/>
<line x1="240.5" y1="380.5" x2="240.5" y2="385.6" stroke="#e83a40" stroke-width="1"/>
<line x1="248.5" y1="380.5" x2="248.5" y2="412.2" stroke="#e83a40" stroke-width="1"/>
<line x1="250.5" y1="380.5" x2="250.5" y2="413.9" stroke="#e83a40" stroke-width="1"/>
<line x1="260.5" y1="380.5" x2="260.5" y2="383.8" stroke="#e83a40" stroke-width="1"/>
<line x1="308.5" y1="380.5" x2="308.5" y2="391.3" stroke="#e83a40" stroke-width="1"/>
<line x1="309.5" y1="380.5" x2="309.5" y2="390" stroke="#e83a40" stroke-width="1"/>
<line x1="317.5" y1="380.5" x2="317.5" y2="413" stroke="#e83a40" stroke-width="1"/>
<line x1="339.5" y1="380.5" x2="339.5" y2="395.9" stroke="#e83a40" stroke-width="1"/>
<line x1="347.5" y1="380.5" x2="347.5" y2="392.7" stroke="#e83a40" stroke-width="1"/>
<line x1="351.5" y1="380.5" x2="351.5" y2="416" stroke="#e83a40" stroke-width="1"/>
<line x1="375.5" y1="380.5" x2="375.5" y2="432.5" stroke="#e83a40" stroke-width="1"/>
<line x1="377.5" y1="380.5" x2="377.5" y2="421.9" stroke="#e83a40" stroke-width="1"/>
<line x1="381.5" y1="380.5" x2="381.5" y2="396.2" stroke="#e83a40" stroke-width="1"/>
<line x1="382.5" y1="380.5" x2="382.5" y2="398.9" stroke="#e83a40" stroke-width="1"/>
<line x1="388.5" y1="380.5" x2="388.5" y2="397.7" stroke="#e83a40" stroke-width="1"/>
<line x1="405.5" y1="380.5" x2="405.5" y2="390.6" stroke="#e83a40" stroke-width="1"/>
<line x1="410.5" y1="380.5" x2="410.5" y2="422.4" stroke="#e83a40" stroke-width="1"/>
<line x1="412.5" y1="380.5" x2="412.5" y2="386.5" stroke="#e83a40" stroke-width="1"/>
<line x1="433.5" y1="380.5" x2="433.5" y2="391.3" stroke="#e83a40" stroke-width="1"/>
<line x1="109.5" y1="380.5" x2="109.5" y2="400.7" stroke="#4040e0" stroke-width="1"/>
<line x1="121.5" y1="380.5" x2="121.5" y2="392.7" stroke="#4040e0" stroke-width="1"/>
<line x1="139.5" y1="380.5" x2="139.5" y2="383" stroke="#4040e0" stroke-width="1"/>
<line x1="167.5" y1="380.5" x2="167.5" y2="386.5" stroke="#4040e0" stroke-width="1"/>
<line x1="178.5" y1="380.5" x2="178.5" y2="388.8" stroke="#4040e0" stroke-width="1"/>
<line x1="183.5" y1="380.5" x2="183.5" y2="383.8" stroke="#4040e0" stroke-width="1"/>
<line x1="196.5" y1="380.5" x2="196.5" y2="382" stroke="#4040e0" stroke-width="1"/>
<line x1="200.5" y1="380.5" x2="200.5" y2="381" stroke="#4040e0" stroke-width="1"/>
<line x1="214.5" y1="380.5" x2="214.5" y2="383" stroke="#4040e0" stroke-width="1"/>
<line x1="253.5" y1="380.5" x2="253.5" y2="387.7" stroke="#4040e0" stroke-width="1"/>
<line x1="264.5" y1="380.5" x2="264.5" y2="382" stroke="#4040e0" stroke-width="1"/>
<line x1="270.5" y1="380.5" x2="270.5" y2="420.7" stroke="#4040e0" stroke-width="1"/>
<line x1="279.5" y1="380.5" x2="279.5" y2="382" stroke="#4040e0" stroke-width="1"/>
<line x1="286.5" y1="380.5" x2="286.5" y2="436.6" stroke="#4040e0" stroke-width="1"/>
<line x1="287.5" y1="380.5" x2="287.5" y2="395.4" stroke="#4040e0" stroke-width="1"/>
<line x1="288.5" y1="380.5" x2="288.5" y2="395.4" stroke="#4040e0" stroke-width="1"/>
<line x1="289.5" y1="380.5" x2="289.5" y2="395.4" stroke="#4040e0" stroke-width="1"/>
<line x1="290.5" y1="380.5" x2="290.5" y2="394.5" stroke="#4040e0" stroke-width="1"/>
<line x1="305.5" y1="380.5" x2="305.5" y2="427.2" stroke="#4040e0" stroke-width="1"/>
<line x1="321.5" y1="380.5" x2="321.5" y2="385.6" stroke="#4040e0" stroke-width="1"/>
<line x1="323.5" y1="380.5" x2="323.5" y2="383" stroke="#4040e0" stroke-width="1"/>
<line x1="331.5" y1="380.5" x2="331.5" y2="386.5" stroke="#4040e0" stroke-width="1"/>
<line x1="333.5" y1="380.5" x2="333.5" y2="394.1" stroke="#4040e0" stroke-width="1"/>
<line x1="359.5" y1="380.5" x2="359.5" y2="389.2" stroke="#4040e0" stroke-width="1"/>
<line x1="361.5" y1="380.5" x2="361.5" y2="383" stroke="#4040e0" stroke-width="1"/>
<line x1="369.5" y1="380.5" x2="369.5" y2="399.8" stroke="#4040e0" stroke-width="1"/>
<line x1="372.5" y1="380.5" x2="372.5" y2="383.8" stroke="#4040e0" stroke-width="1"/>
<line x1="393.5" y1="380.5" x2="393.5" y2="391" stroke="#4040e0" stroke-width="1"/>
<line x1="401.5" y1="380.5" x2="401.5" y2="382.4" stroke="#4040e0" stroke-width="1"/>
<line x1="407.5" y1="380.5" x2="407.5" y2="389.5" stroke="#4040e0" stroke-width="1"/>
<line x1="421.5" y1="380.5" x2="421.5" y2="391.3" stroke="#4040e0" stroke-width="1"/>
<line x1="427.5" y1="380.5" x2="427.5" y2="390" stroke="#4040e0" stroke-width="1"/>
<line x1="429.5" y1="380.5" x2="429.5" y2="384.7" stroke="#4040e0" stroke-width="1"/>
<line x1="442.5" y1="380.5" x2="442.5" y2="399.6" stroke="#4040e0" stroke-width="1"/>
<line x1="443.5" y1="380.5" x2="443.5" y2="383.8" stroke="#4040e0" stroke-width="1"/>
<line x1="445.5" y1="380.5" x2="445.5" y2="384.7" stroke="#4040e0" stroke-width="1"/>
<line x1="448.5" y1="380.5" x2="448.5" y2="386.6" stroke="#4040e0" stroke-width="1"/>
<line x1="100.9" y1="380.5" x2="449.4" y2="380.5" stroke="#e83030" stroke-width="1"/>
<line x1="109.5" y1="377" x2="109.5" y2="334.8" stroke="#4a4a4a" stroke-width="1"/>
<line x1="111.5" y1="377" x2="111.5" y2="364.1" stroke="#4a4a4a" stroke-width="1"/>
<line x1="113.5" y1="377" x2="113.5" y2="369" stroke="#4a4a4a" stroke-width="1"/>
<line x1="118.5" y1="377" x2="118.5" y2="360.2" stroke="#4a4a4a" stroke-width="1"/>
<line x1="121.5" y1="377" x2="121.5" y2="357.9" stroke="#4a4a4a" stroke-width="1"/>
<line x1="127.5" y1="377" x2="127.5" y2="352.8" stroke="#4a4a4a" stroke-width="1"/>
<line x1="136.5" y1="377" x2="136.5" y2="364.1" stroke="#4a4a4a" stroke-width="1"/>
<line x1="137.5" y1="377" x2="137.5" y2="348.1" stroke="#4a4a4a" stroke-width="1"/>
<line x1="143.5" y1="377" x2="143.5" y2="367.1" stroke="#4a4a4a" stroke-width="1"/>
<line x1="147.5" y1="377" x2="147.5" y2="350.5" stroke="#4a4a4a" stroke-width="1"/>
<line x1="152.5" y1="377" x2="152.5" y2="313.3" stroke="#4a4a4a" stroke-width="1"/>
<line x1="159.5" y1="377" x2="159.5" y2="362.2" stroke="#4a4a4a" stroke-width="1"/>
<line x1="165.5" y1="377" x2="165.5" y2="355.4" stroke="#4a4a4a" stroke-width="1"/>
<line x1="167.5" y1="377" x2="167.5" y2="358.5" stroke="#4a4a4a" stroke-width="1"/>
<line x1="168.5" y1="377" x2="168.5" y2="361.5" stroke="#4a4a4a" stroke-width="1"/>
<line x1="170.5" y1="377" x2="170.5" y2="286.2" stroke="#4a4a4a" stroke-width="1"/>
<line x1="173.5" y1="377" x2="173.5" y2="226.2" stroke="#4a4a4a" stroke-width="1"/>
<line x1="175.5" y1="377" x2="175.5" y2="357" stroke="#4a4a4a" stroke-width="1"/>
<line x1="182.5" y1="377" x2="182.5" y2="333.2" stroke="#4a4a4a" stroke-width="1"/>
<line x1="187.5" y1="377" x2="187.5" y2="344.6" stroke="#4a4a4a" stroke-width="1"/>
<line x1="190.5" y1="377" x2="190.5" y2="344.6" stroke="#4a4a4a" stroke-width="1"/>
<line x1="191.5" y1="377" x2="191.5" y2="293.8" stroke="#4a4a4a" stroke-width="1"/>
<line x1="192.5" y1="377" x2="192.5" y2="295.4" stroke="#4a4a4a" stroke-width="1"/>
<line x1="200.5" y1="377" x2="200.5" y2="363" stroke="#4a4a4a" stroke-width="1"/>
<line x1="204.5" y1="377" x2="204.5" y2="352" stroke="#4a4a4a" stroke-width="1"/>
<line x1="206.5" y1="377" x2="206.5" y2="269.2" stroke="#4a4a4a" stroke-width="1"/>
<line x1="211.5" y1="377" x2="211.5" y2="341.5" stroke="#4a4a4a" stroke-width="1"/>
<line x1="213.5" y1="377" x2="213.5" y2="355" stroke="#4a4a4a" stroke-width="1"/>
<line x1="216.5" y1="377" x2="216.5" y2="345.5" stroke="#4a4a4a" stroke-width="1"/>
<line x1="219.5" y1="377" x2="219.5" y2="330.8" stroke="#4a4a4a" stroke-width="1"/>
<line x1="224.5" y1="377" x2="224.5" y2="339.4" stroke="#4a4a4a" stroke-width="1"/>
<line x1="227.5" y1="377" x2="227.5" y2="290.8" stroke="#4a4a4a" stroke-width="1"/>
<line x1="233.5" y1="377" x2="233.5" y2="370.8" stroke="#4a4a4a" stroke-width="1"/>
<line x1="239.5" y1="377" x2="239.5" y2="347.7" stroke="#4a4a4a" stroke-width="1"/>
<line x1="240.5" y1="377" x2="240.5" y2="362" stroke="#4a4a4a" stroke-width="1"/>
<line x1="248.5" y1="377" x2="248.5" y2="347.7" stroke="#4a4a4a" stroke-width="1"/>
<line x1="250.5" y1="377" x2="250.5" y2="336.3" stroke="#4a4a4a" stroke-width="1"/>
<line x1="253.5" y1="377" x2="253.5" y2="361.5" stroke="#4a4a4a" stroke-width="1"/>
<line x1="255.5" y1="377" x2="255.5" y2="357" stroke="#4a4a4a" stroke-width="1"/>
<line x1="261.5" y1="377" x2="261.5" y2="368" stroke="#4a4a4a" stroke-width="1"/>
<line x1="266.5" y1="377" x2="266.5" y2="370.8" stroke="#4a4a4a" stroke-width="1"/>
<line x1="270.5" y1="377" x2="270.5" y2="341.5" stroke="#4a4a4a" stroke-width="1"/>
<line x1="279.5" y1="377" x2="279.5" y2="369" stroke="#4a4a4a" stroke-width="1"/>
<line x1="286.5" y1="377" x2="286.5" y2="300.6" stroke="#4a4a4a" stroke-width="1"/>
<line x1="288.5" y1="377" x2="288.5" y2="361" stroke="#4a4a4a" stroke-width="1"/>
<line x1="289.5" y1="377" x2="289.5" y2="362.5" stroke="#4a4a4a" stroke-width="1"/>
<line x1="294.5" y1="377" x2="294.5" y2="344.6" stroke="#4a4a4a" stroke-width="1"/>
<line x1="295.5" y1="377" x2="295.5" y2="364" stroke="#4a4a4a" stroke-width="1"/>
<line x1="297.5" y1="377" x2="297.5" y2="358.5" stroke="#4a4a4a" stroke-width="1"/>
<line x1="298.5" y1="377" x2="298.5" y2="370.8" stroke="#4a4a4a" stroke-width="1"/>
<line x1="301.5" y1="377" x2="301.5" y2="366.8" stroke="#4a4a4a" stroke-width="1"/>
<line x1="305.5" y1="377" x2="305.5" y2="350.8" stroke="#4a4a4a" stroke-width="1"/>
<line x1="308.5" y1="377" x2="308.5" y2="363" stroke="#4a4a4a" stroke-width="1"/>
<line x1="310.5" y1="377" x2="310.5" y2="367.7" stroke="#4a4a4a" stroke-width="1"/>
<line x1="313.5" y1="377" x2="313.5" y2="323" stroke="#4a4a4a" stroke-width="1"/>
<line x1="317.5" y1="377" x2="317.5" y2="334.5" stroke="#4a4a4a" stroke-width="1"/>
<line x1="321.5" y1="377" x2="321.5" y2="369" stroke="#4a4a4a" stroke-width="1"/>
<line x1="323.5" y1="377" x2="323.5" y2="367.7" stroke="#4a4a4a" stroke-width="1"/>
<line x1="327.5" y1="377" x2="327.5" y2="343" stroke="#4a4a4a" stroke-width="1"/>
<line x1="332.5" y1="377" x2="332.5" y2="364.6" stroke="#4a4a4a" stroke-width="1"/>
<line x1="334.5" y1="377" x2="334.5" y2="360" stroke="#4a4a4a" stroke-width="1"/>
<line x1="337.5" y1="377" x2="337.5" y2="353" stroke="#4a4a4a" stroke-width="1"/>
<line x1="338.5" y1="377" x2="338.5" y2="358.5" stroke="#4a4a4a" stroke-width="1"/>
<line x1="347.5" y1="377" x2="347.5" y2="370.8" stroke="#4a4a4a" stroke-width="1"/>
<line x1="350.5" y1="377" x2="350.5" y2="321" stroke="#4a4a4a" stroke-width="1"/>
<line x1="355.5" y1="377" x2="355.5" y2="373.8" stroke="#4a4a4a" stroke-width="1"/>
<line x1="359.5" y1="377" x2="359.5" y2="371.7" stroke="#4a4a4a" stroke-width="1"/>
<line x1="361.5" y1="377" x2="361.5" y2="370.8" stroke="#4a4a4a" stroke-width="1"/>
<line x1="367.5" y1="377" x2="367.5" y2="357" stroke="#4a4a4a" stroke-width="1"/>
<line x1="369.5" y1="377" x2="369.5" y2="370.8" stroke="#4a4a4a" stroke-width="1"/>
<line x1="372.5" y1="377" x2="372.5" y2="368.6" stroke="#4a4a4a" stroke-width="1"/>
<line x1="375.5" y1="377" x2="375.5" y2="317.8" stroke="#4a4a4a" stroke-width="1"/>
<line x1="377.5" y1="377" x2="377.5" y2="328.3" stroke="#4a4a4a" stroke-width="1"/>
<line x1="380.5" y1="377" x2="380.5" y2="357" stroke="#4a4a4a" stroke-width="1"/>
<line x1="381.5" y1="377" x2="381.5" y2="330.8" stroke="#4a4a4a" stroke-width="1"/>
<line x1="388.5" y1="377" x2="388.5" y2="338.5" stroke="#4a4a4a" stroke-width="1"/>
<line x1="389.5" y1="377" x2="389.5" y2="346" stroke="#4a4a4a" stroke-width="1"/>
<line x1="393.5" y1="377" x2="393.5" y2="367" stroke="#4a4a4a" stroke-width="1"/>
<line x1="405.5" y1="377" x2="405.5" y2="350.8" stroke="#4a4a4a" stroke-width="1"/>
<line x1="407.5" y1="377" x2="407.5" y2="370.8" stroke="#4a4a4a" stroke-width="1"/>
<line x1="410.5" y1="377" x2="410.5" y2="355.4" stroke="#4a4a4a" stroke-width="1"/>
<line x1="415.5" y1="377" x2="415.5" y2="370.8" stroke="#4a4a4a" stroke-width="1"/>
<line x1="419.5" y1="377" x2="419.5" y2="364.6" stroke="#4a4a4a" stroke-width="1"/>
<line x1="421.5" y1="377" x2="421.5" y2="366" stroke="#4a4a4a" stroke-width="1"/>
<line x1="427.5" y1="377" x2="427.5" y2="366.1" stroke="#4a4a4a" stroke-width="1"/>
<line x1="433.5" y1="377" x2="433.5" y2="371.7" stroke="#4a4a4a" stroke-width="1"/>
<line x1="442.5" y1="377" x2="442.5" y2="361.5" stroke="#4a4a4a" stroke-width="1"/>
<line x1="445.5" y1="377" x2="445.5" y2="369.8" stroke="#4a4a4a" stroke-width="1"/>
<line x1="447.5" y1="377" x2="447.5" y2="367" stroke="#4a4a4a" stroke-width="1"/>
<line x1="448.5" y1="377" x2="448.5" y2="373.6" stroke="#4a4a4a" stroke-width="1"/>
<rect x="100.9" y="375.6" width="348.5" height="4.2" fill="#000"/>
<path d="M101.5 376V375.03M102.5 376V373.57M103.5 376V375M104.5 376V375.09M105.5 376V374.75M106.5 376V375.34M107.5 376V374.73M108.5 376V375.65M109.5 376V369.12M110.5 376V374.96M111.5 376V375.68M112.5 376V375.63M113.5 376V375.41M114.5 376V375.14M115.5 376V374.69M116.5 376V374.93M117.5 376V374.91M118.5 376V375.37M119.5 376V369.02M120.5 376V373.08M121.5 376V375.42M122.5 376V375.62M123.5 376V373.7M124.5 376V373.73M125.5 376V369.53M126.5 376V375.45M127.5 376V373.56M128.5 376V371.11M129.5 376V374.94M130.5 376V373.96M131.5 376V375.3M132.5 376V369.85M133.5 376V375.4M134.5 376V375.63M135.5 376V374.14M136.5 376V375.16M137.5 376V374.82M138.5 376V374.93M139.5 376V375.2M140.5 376V375.38M141.5 376V369.69M142.5 376V374.64M143.5 376V375.23M144.5 376V373.22M145.5 376V374.51M146.5 376V375.39M147.5 376V373.84M148.5 376V375.61M149.5 376V375M150.5 376V374.98M151.5 376V375.16M152.5 376V370.81M153.5 376V374.66M154.5 376V375.52M155.5 376V372.86M156.5 376V375.47M157.5 376V372.62M158.5 376V374.56M159.5 376V373.29M160.5 376V375.58M161.5 376V374.54M162.5 376V374.85M163.5 376V374.71M164.5 376V375.35M165.5 376V374.84M166.5 376V375.43M167.5 376V374.68M168.5 376V375.36M169.5 376V374.09M170.5 376V375.38M171.5 376V375.63M172.5 376V375.26M173.5 376V375.54M174.5 376V374.63M175.5 376V370.2M176.5 376V375M177.5 376V375.66M178.5 376V374.61M179.5 376V372.57M180.5 376V374.94M181.5 376V374.82M182.5 376V374.5M183.5 376V375.04M184.5 376V372.7M185.5 376V373.09M186.5 376V372.67M187.5 376V374.88M188.5 376V372.76M189.5 376V374.75M190.5 376V373.35M191.5 376V375.24M192.5 376V374.97M193.5 376V374.93M194.5 376V369.42M195.5 376V373.72M196.5 376V373.34M197.5 376V374.69M198.5 376V374.8M199.5 376V374.98M200.5 376V375.42M201.5 376V375.1M202.5 376V374.6M203.5 376V375.69M204.5 376V374.89M205.5 376V375.5M206.5 376V373.18M207.5 376V374.63M208.5 376V374.9M209.5 376V375.18M210.5 376V372.67M211.5 376V373.73M212.5 376V375.32M213.5 376V375.1M214.5 376V372.8M215.5 376V372.6M216.5 376V375.5M217.5 376V375.37M218.5 376V375.2M219.5 376V375.11M220.5 376V374.69M221.5 376V370.92M222.5 376V375.66M223.5 376V374.42M224.5 376V373.36M225.5 376V374.75M226.5 376V375.54M227.5 376V375.67M228.5 376V374.03M229.5 376V375.64M230.5 376V375.16M231.5 376V374.91M232.5 376V372.58M233.5 376V375.46M234.5 376V375.49M235.5 376V375.13M236.5 376V374.14M237.5 376V375.29M238.5 376V375.08M239.5 376V374.79M240.5 376V374.75M241.5 376V374.33M242.5 376V369.97M243.5 376V375.16M244.5 376V374.61M245.5 376V375.02M246.5 376V372.91M247.5 376V370.88M248.5 376V375.45M249.5 376V372.86M250.5 376V374.84M251.5 376V374.62M252.5 376V369.08M253.5 376V374.75M254.5 376V374.61M255.5 376V373.8M256.5 376V375.17M257.5 376V374.78M258.5 376V375.67M259.5 376V374.37M260.5 376V374.15M261.5 376V374.75M262.5 376V375.52M263.5 376V374.83M264.5 376V373.12M265.5 376V370.78M266.5 376V372.2M267.5 376V375.07M268.5 376V374.83M269.5 376V375.07M270.5 376V373.38M271.5 376V375.24M272.5 376V372.7M273.5 376V374.68M274.5 376V370.67M275.5 376V375.46M276.5 376V375.1M277.5 376V375.67M278.5 376V370.69M279.5 376V374.74M280.5 376V375.11M281.5 376V375.62M282.5 376V375.2M283.5 376V369.27M284.5 376V375.13M285.5 376V375.18M286.5 376V372.7M287.5 376V375.32M288.5 376V374.96M289.5 376V374.24M290.5 376V374.45M291.5 376V375.43M292.5 376V375.31M293.5 376V374.96M294.5 376V374.82M295.5 376V375.09M296.5 376V375.46M297.5 376V375.18M298.5 376V375.2M299.5 376V375.51M300.5 376V374.94M301.5 376V375.06M302.5 376V373.28M303.5 376V374.03M304.5 376V372.88M305.5 376V373.87M306.5 376V374.59M307.5 376V374.5M308.5 376V374.23M309.5 376V374.83M310.5 376V375.58M311.5 376V373.66M312.5 376V374.25M313.5 376V374.88M314.5 376V375.46M315.5 376V374.61M316.5 376V372.1M317.5 376V374.79M318.5 376V374.88M319.5 376V375.62M320.5 376V375.66M321.5 376V375.08M322.5 376V375.52M323.5 376V375.46M324.5 376V372.52M325.5 376V374.31M326.5 376V374.56M327.5 376V374.78M328.5 376V375.14M329.5 376V375.18M330.5 376V375.68M331.5 376V372.81M332.5 376V375.16M333.5 376V373.69M334.5 376V375.5M335.5 376V375.68M336.5 376V372.9M337.5 376V372.78M338.5 376V375.21M339.5 376V375.09M340.5 376V369.68M341.5 376V374.61M342.5 376V372.94M343.5 376V373.69M344.5 376V372.74M345.5 376V374.78M346.5 376V373.69M347.5 376V374.36M348.5 376V375.14M349.5 376V375.27M350.5 376V374.95M351.5 376V374.57M352.5 376V375.29M353.5 376V375.02M354.5 376V375.23M355.5 376V370.25M356.5 376V372.98M357.5 376V372.42M358.5 376V374.81M359.5 376V375.22M360.5 376V375.47M361.5 376V375.58M362.5 376V374.61M363.5 376V375.09M364.5 376V370.51M365.5 376V370.27M366.5 376V374.35M367.5 376V374.79M368.5 376V374.58M369.5 376V375.13M370.5 376V375.11M371.5 376V375.63M372.5 376V371.03M373.5 376V374.98M374.5 376V375.36M375.5 376V375.03M376.5 376V374.84M377.5 376V375.68M378.5 376V375.65M379.5 376V374.79M380.5 376V374.62M381.5 376V374.4M382.5 376V369.19M383.5 376V374.61M384.5 376V375.13M385.5 376V371.65M386.5 376V374.58M387.5 376V373.56M388.5 376V369.64M389.5 376V375.56M390.5 376V375.15M391.5 376V375.64M392.5 376V375.55M393.5 376V374.9M394.5 376V375.39M395.5 376V375.2M396.5 376V373.44M397.5 376V369.17M398.5 376V374.02M399.5 376V374.63M400.5 376V373.25M401.5 376V375.37M402.5 376V375.02M403.5 376V374.94M404.5 376V374.12M405.5 376V374.52M406.5 376V372.74M407.5 376V375.63M408.5 376V375.19M409.5 376V375.58M410.5 376V375.61M411.5 376V374.89M412.5 376V374.94M413.5 376V375.13M414.5 376V375.29M415.5 376V372.82M416.5 376V375.56M417.5 376V373.25M418.5 376V374.07M419.5 376V375.39M420.5 376V373.76M421.5 376V374.51M422.5 376V375.04M423.5 376V372.66M424.5 376V375.26M425.5 376V374.65M426.5 376V375.6M427.5 376V375.12M428.5 376V375.34M429.5 376V374.35M430.5 376V374.91M431.5 376V375.34M432.5 376V373.11M433.5 376V375.53M434.5 376V374.83M435.5 376V375.56M436.5 376V373.36M437.5 376V372.62M438.5 376V373.62M439.5 376V373.89M440.5 376V375.22M441.5 376V369.37M442.5 376V375.27M443.5 376V375.26M444.5 376V375.23M445.5 376V375.02M446.5 376V373.42M447.5 376V373.37M448.5 376V374.79" stroke="#333" stroke-width="1" fill="none"/>
<line x1="100.9" y1="226.2" x2="100.9" y2="483" stroke="#000" stroke-width="1.6"/>
<line x1="100.1" y1="482.3" x2="450.3" y2="482.3" stroke="#000" stroke-width="1.6"/>
<line x1="95.4" y1="226.4" x2="100.9" y2="226.4" stroke="#000" stroke-width="1.4"/>
<text x="92.1" y="230.6" font-size="11.8" text-anchor="end" font-weight="bold">0.6</text>
<line x1="97.7" y1="252" x2="100.9" y2="252" stroke="#000" stroke-width="1.4"/>
<line x1="95.4" y1="277.6" x2="100.9" y2="277.6" stroke="#000" stroke-width="1.4"/>
<text x="92.1" y="281.8" font-size="11.8" text-anchor="end" font-weight="bold">0.4</text>
<line x1="97.7" y1="303.2" x2="100.9" y2="303.2" stroke="#000" stroke-width="1.4"/>
<line x1="95.4" y1="328.8" x2="100.9" y2="328.8" stroke="#000" stroke-width="1.4"/>
<text x="92.1" y="333" font-size="11.8" text-anchor="end" font-weight="bold">0.2</text>
<line x1="97.7" y1="354.4" x2="100.9" y2="354.4" stroke="#000" stroke-width="1.4"/>
<line x1="95.4" y1="380" x2="100.9" y2="380" stroke="#000" stroke-width="1.4"/>
<text x="92.1" y="384.2" font-size="11.8" text-anchor="end" font-weight="bold">0.0</text>
<line x1="97.7" y1="405.6" x2="100.9" y2="405.6" stroke="#000" stroke-width="1.4"/>
<line x1="95.4" y1="431.2" x2="100.9" y2="431.2" stroke="#000" stroke-width="1.4"/>
<text x="92.1" y="435.4" font-size="11.8" text-anchor="end" font-weight="bold">-0.2</text>
<line x1="97.7" y1="456.8" x2="100.9" y2="456.8" stroke="#000" stroke-width="1.4"/>
<line x1="95.4" y1="482.4" x2="100.9" y2="482.4" stroke="#000" stroke-width="1.4"/>
<text x="92.1" y="486.6" font-size="11.8" text-anchor="end" font-weight="bold">-0.4</text>
<line x1="100.9" y1="482.3" x2="100.9" y2="487.6" stroke="#000" stroke-width="1.4"/>
<text x="100.9" y="500.6" font-size="12" text-anchor="middle" font-weight="bold">4000</text>
<line x1="122.74" y1="482.3" x2="122.74" y2="485.5" stroke="#000" stroke-width="1.4"/>
<line x1="144.57" y1="482.3" x2="144.57" y2="487.6" stroke="#000" stroke-width="1.4"/>
<text x="144.57" y="500.6" font-size="12" text-anchor="middle" font-weight="bold">4500</text>
<line x1="166.41" y1="482.3" x2="166.41" y2="485.5" stroke="#000" stroke-width="1.4"/>
<line x1="188.25" y1="482.3" x2="188.25" y2="487.6" stroke="#000" stroke-width="1.4"/>
<text x="188.25" y="500.6" font-size="12" text-anchor="middle" font-weight="bold">5000</text>
<line x1="210.09" y1="482.3" x2="210.09" y2="485.5" stroke="#000" stroke-width="1.4"/>
<line x1="231.93" y1="482.3" x2="231.93" y2="487.6" stroke="#000" stroke-width="1.4"/>
<text x="231.93" y="500.6" font-size="12" text-anchor="middle" font-weight="bold">5500</text>
<line x1="253.76" y1="482.3" x2="253.76" y2="485.5" stroke="#000" stroke-width="1.4"/>
<line x1="275.6" y1="482.3" x2="275.6" y2="487.6" stroke="#000" stroke-width="1.4"/>
<text x="275.6" y="500.6" font-size="12" text-anchor="middle" font-weight="bold">6000</text>
<line x1="297.44" y1="482.3" x2="297.44" y2="485.5" stroke="#000" stroke-width="1.4"/>
<line x1="319.27" y1="482.3" x2="319.27" y2="487.6" stroke="#000" stroke-width="1.4"/>
<text x="319.27" y="500.6" font-size="12" text-anchor="middle" font-weight="bold">6500</text>
<line x1="341.11" y1="482.3" x2="341.11" y2="485.5" stroke="#000" stroke-width="1.4"/>
<line x1="362.95" y1="482.3" x2="362.95" y2="487.6" stroke="#000" stroke-width="1.4"/>
<text x="362.95" y="500.6" font-size="12" text-anchor="middle" font-weight="bold">7000</text>
<line x1="384.79" y1="482.3" x2="384.79" y2="485.5" stroke="#000" stroke-width="1.4"/>
<line x1="406.62" y1="482.3" x2="406.62" y2="487.6" stroke="#000" stroke-width="1.4"/>
<text x="406.62" y="500.6" font-size="12" text-anchor="middle" font-weight="bold">7500</text>
<line x1="428.46" y1="482.3" x2="428.46" y2="485.5" stroke="#000" stroke-width="1.4"/>
<line x1="450.3" y1="482.3" x2="450.3" y2="487.6" stroke="#000" stroke-width="1.4"/>
<text x="450.3" y="500.6" font-size="12" text-anchor="middle" font-weight="bold">8000</text>
<text x="251.8" y="526.4" font-size="15" font-weight="bold" fill="#111"><tspan font-weight="normal">&#957;</tspan> /MHz</text>
<text transform="translate(49.6 370) rotate(-90)" font-size="16" font-weight="bold" fill="#111"><tspan font-weight="normal" font-size="12">&#181;</tspan>V</text>
<text x="359" y="222.5" font-size="12.4" fill="#1a1a1a" textLength="54.6" lengthAdjust="spacingAndGlyphs" stroke="#1a1a1a" stroke-width="0.3">Observed</text>
<text x="365.8" y="459" font-size="12.6" fill="#1a1a1a" textLength="59.4" lengthAdjust="spacingAndGlyphs" stroke="#1a1a1a" stroke-width="0.3">Calculated</text>
<path d="M427.2 456.2 H435.6 M439.6 438.9 H435.6 V472.9 H439.6" fill="none" stroke="#333" stroke-width="1.3"/>
<text x="441.6" y="447.7" font-size="12.4" fill="#e8262e" textLength="60.6" lengthAdjust="spacingAndGlyphs" stroke="#e8262e" stroke-width="0.3">Rotamer a</text>
<text x="441.6" y="470.7" font-size="12.4" fill="#2e78c0" textLength="60.6" lengthAdjust="spacingAndGlyphs" stroke="#2e78c0" stroke-width="0.3">Rotamer b</text>
</svg></body></html>
